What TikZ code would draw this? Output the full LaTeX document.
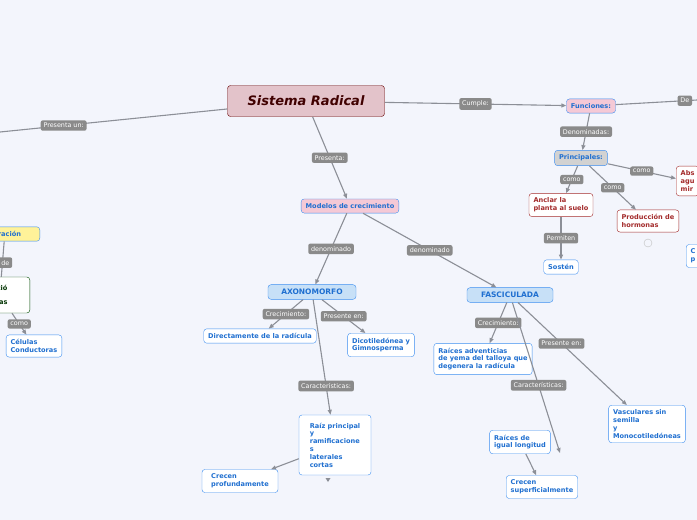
\documentclass[tikz,border=0pt]{standalone}
\usepackage{fontspec}
\setmainfont{DejaVu Sans}
\usetikzlibrary{positioning, arrows.meta}
\definecolor{bg}{HTML}{F3F5FC}
\definecolor{lnk}{HTML}{8C8F97}
\definecolor{lblfill}{HTML}{8A8A8A}
\definecolor{bblue}{HTML}{3D8EF0}
\definecolor{tblue}{HTML}{1F6FD0}
\definecolor{dred}{HTML}{A32B2B}
\definecolor{pinkf}{HTML}{F5C9D6}
\definecolor{lbluef}{HTML}{C7E0F7}
\definecolor{titlef}{HTML}{E3C3CA}
\tikzset{
x=1pt, y=-1pt,
>={Triangle[length=5pt,width=4pt]},
link/.style={draw=lnk, line width=1.1pt}, % connectors
lbl/.style={fill=lblfill, text=white, rounded corners=2pt, font=\fontsize{6.4}{7.5}\selectfont, inner sep=2.8pt},
bbox/.style={draw=bblue, fill=white, rounded corners=3pt, text=tblue, font=\fontsize{6.6}{7.8}\selectfont\bfseries, align=left, inner sep=4.5pt},
rbox/.style={bbox, draw=dred, text=dred},
}
\begin{document}
\begin{tikzpicture}
\fill[bg] (0,0) rectangle (697,520);
\useasboundingbox (0,0) rectangle (697,520);
\begin{scope}
\clip (0,0) rectangle (697,520);
% main nodes
\node[draw=red!40!black, fill=titlef, rounded corners=3pt, minimum width=157pt, minimum height=31pt,
  text=red!25!black, font=\fontsize{13}{15}\selectfont\bfseries\itshape] (sr) at (306,101) {Sistema Radical};
\node[bbox, fill=pinkf] (fun) at (591,106) {Funciones:};
\node[bbox, fill=pinkf] (mod) at (350,206) {Modelos de crecimiento};
\node[bbox, fill=gray!35] (pri) at (581,158) {Principales:};
\node[rbox] (anc) at (561,205) {Anclar la\\planta al suelo};
\node[bbox] (sos) at (561,267) {Sostén};
\node[rbox] (pro) at (648,221) {Producción de\\hormonas};
\node[rbox, anchor=west] (abs) at (676,181) {Abs\\agu\\mir};
\node[bbox, anchor=west] (cp) at (686,256) {C\\p};
\node[bbox, fill=lbluef, font=\fontsize{7.5}{9}\selectfont\bfseries, minimum width=88pt] (axo) at (312,292) {AXONOMORFO};
\node[bbox, fill=lbluef, font=\fontsize{7.5}{9}\selectfont\bfseries, minimum width=86pt] (fas) at (510,295) {FASCICULADA};
\node[bbox] (dir) at (260,336) {Directamente de la radícula};
\node[bbox] (dic) at (381,345) {Dicotiledónea y\\Gimnosperma};
\node[bbox, minimum height=60pt, minimum width=72pt] (rai) at (335,445) {Raíz principal\\y\\ramificacione\\s\\laterales\\cortas};
\node[bbox, minimum width=76pt] (pro2) at (240,481) {Crecen\\profundamente};
\node[bbox] (adv) at (483,359) {Raíces adventicias\\de yema del talloya que\\degenera la radícula};
\node[bbox] (vas) at (647,424) {Vasculares sin\\semilla\\y\\Monocotiledóneas};
\node[bbox] (igu) at (520,442) {Raíces de\\igual longitud};
\node[bbox] (sup) at (542,487) {Crecen\\superficialmente};
\node[bbox, fill=orange!25!yellow!40, text=tblue, anchor=east, minimum width=70pt, align=right] (dur) at (40,234) {duración};
\node[bbox, draw=green!30!black, text=green!20!black, anchor=east, minimum height=36pt, minimum width=60pt, align=right] (ac) at (30,295) {ació\\[6pt]ulas};
\node[bbox] (cel) at (34,346) {Células\\Conductoras};
\coordinate (le) at (0,132);
\coordinate (re) at (697,100);
\coordinate (fe) at (560,453);
\coordinate (ae) at (328,482);
% connectors with labels
\draw[link] (sr) -- node[lbl, pos=0.72] {Presenta un:} (le);
\draw[link,->] (sr) -- node[lbl] {Cumple:} (fun);
\draw[link] (fun) -- node[lbl, pos=0.85] {De} (re);
\draw[link,->] (fun) -- node[lbl] {Denominadas:} (pri);
\draw[link,->] (pri) -- node[lbl] {como} (anc);
\draw[link,->] (anc) -- node[lbl] {Permiten} (sos);
\draw[link,->] (pri) -- node[lbl] {como} (pro);
\draw[link,->] (pri) -- node[lbl] {como} (abs);
\draw[link,->] (sr) -- node[lbl] {Presenta:} (mod);
\draw[link,->] (mod) -- node[lbl] {denominado} (axo);
\draw[link,->] (mod) -- node[lbl] {denominado} (fas);
\draw[link,->] (axo) -- node[lbl] {Crecimiento:} (dir);
\draw[link,->] (axo) -- node[lbl] {Presente en:} (dic);
\draw[link,->] (axo) -- node[lbl, pos=0.75] {Características:} (rai);
\draw[link,->] (rai) -- (pro2);
\draw[link,->] (fas) -- node[lbl] {Crecimiento:} (adv);
\draw[link,->] (fas) -- node[lbl, pos=0.4] {Presente en:} (vas);
\draw[link,->] (fas) -- node[lbl, pos=0.55] {Características:} (fe);
\draw[link,->] (igu) -- (sup);
\draw[link] (dur) -- node[lbl, pos=0.6] {o de} (ac);
\draw[link,->] (ac) -- node[lbl] {como} (cel);
\fill[lnk] (ae) -- ++(-2.5,-4) -- ++(5,0) -- cycle;
\draw[gray!50] (648,243) circle (4pt);
\end{scope}
\end{tikzpicture}
\end{document}
